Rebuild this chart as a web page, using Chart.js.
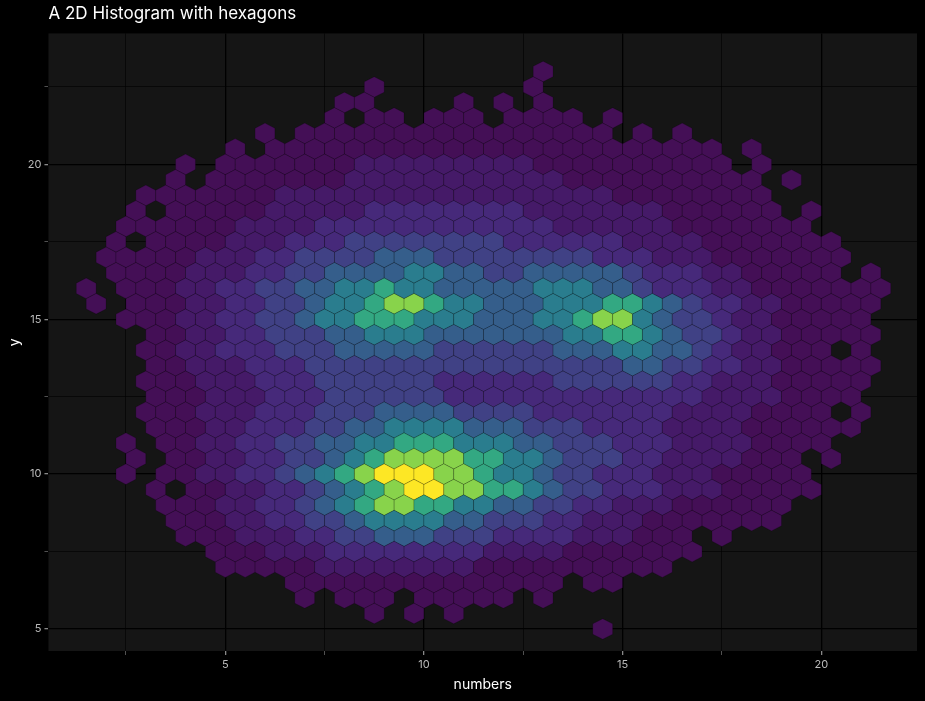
<!DOCTYPE html>
<html><head><meta charset="utf-8">
<script src="https://cdn.jsdelivr.net/npm/chart.js@4"></script>
<style>html,body{margin:0;background:#000;}#c{display:block}</style>
</head><body>
<canvas id="c" width="925" height="701"></canvas>
<script>
// Hexbin counts (levels 1-9), rows from y=23 down to y=5 in 0.5 steps; column i -> x = 1.5 + 0.5*i (odd rows shifted +0.25)
const rowYTop = 23, rowStep = 0.5, colX0 = 1.5, colStep = 0.5;
const hexRows = [
".......................1",
"..............1.......1",
".............11....1.1.1",
"............1.11.111.1111.1",
".........1.1111111111111111.1.1",
".......1.11111111111111111111111.1",
".....1.11111112222222221111111111.1",
"....1.1111111222222222221111111111.1",
"...11111112222222222222222211111111",
"..1.1111122222333333332222222111111.1",
"..11111122223333333333332222221111111",
".1.11112223334444444433333322221111111",
".11111222334444555444444443332221111111",
".1111222334455556655445555543332211111.1",
"1.111223344556676655555666554333221111111",
"1.11122334456678876655566677654332211111",
"..11122334456677766655566788654432211111",
"...1122334445566655555556677654432211111",
"...11223334445555544444455566554322111.1",
"...1122233344444444444444445544332211111",
"...1112223334444443333334444443322211111",
"...111222333444444333333333333322221111",
"...11122233344455554444333333322221111.1",
"...111223334455666655544433332222111111",
"..1.1122334455667776665544433322221111",
"..1.11223344567888877665444332222111.1",
"..1.112233456789998876654433322211111",
"...1.11223345678998877654433322211111",
"....11122334567887766554433222111111",
"....1112233445666655444332221111111",
".....11122233445554443333222111.1",
"......1112223333333322221111111",
".......11111222222221111111111",
"..........11111111111111.11",
"...........1.111.11111.1",
"..............1.1.1",
"..........................1"
];
const levelColors = ['#440f56','#451a68','#46297a','#404185','#355e8b','#2a7d8e','#33a882','#88d34b','#fde725'];
const xTicks = [5,10,15,20], yTicks = [5,10,15,20];
const titleText = 'A 2D Histogram with hexagons';

const pts = [];
hexRows.forEach((row, j) => {
  const y = rowYTop - j*rowStep;
  const off = (j % 2) ? colStep/2 : 0;
  for (let i = 0; i < row.length; i++) {
    const ch = row[i];
    if (ch >= '1' && ch <= '9') pts.push({x: colX0 + i*colStep + off, y: y, v: +ch});
  }
});

const font = "Inter, 'Open Sans', sans-serif";
const hexPlugin = {
  id: 'hex',
  beforeDraw(chart) {
    const {ctx, chartArea: a} = chart;
    ctx.save(); ctx.fillStyle = '#000'; ctx.fillRect(0,0,chart.width,chart.height);
    ctx.fillStyle = '#151515'; ctx.fillRect(a.left, a.top, a.right-a.left, a.bottom-a.top); ctx.restore();
  },
  beforeDatasetsDraw(chart) {
    const {ctx, chartArea: a, scales: {x, y}} = chart;
    ctx.save();
    ctx.beginPath(); ctx.rect(a.left, a.top, a.right-a.left, a.bottom-a.top); ctx.clip();
    const hw = Math.abs(x.getPixelForValue(colStep) - x.getPixelForValue(0)) / 2;
    const dy = Math.abs(y.getPixelForValue(rowStep) - y.getPixelForValue(0));
    chart.data.datasets[0].data.forEach(p => {
      const cx = x.getPixelForValue(p.x), cy = y.getPixelForValue(p.y);
      ctx.beginPath();
      ctx.moveTo(cx, cy - dy*2/3);
      ctx.lineTo(cx + hw, cy - dy/3);
      ctx.lineTo(cx + hw, cy + dy/3);
      ctx.lineTo(cx, cy + dy*2/3);
      ctx.lineTo(cx - hw, cy + dy/3);
      ctx.lineTo(cx - hw, cy - dy/3);
      ctx.closePath();
      ctx.fillStyle = levelColors[p.v-1]; ctx.fill();
      ctx.strokeStyle = 'rgba(0,0,0,0.3)'; ctx.lineWidth = 0.6; ctx.stroke();
    });
    ctx.restore();
  },
  afterDraw(chart) {
    const {ctx, chartArea: a} = chart;
    ctx.save(); ctx.fillStyle = '#fff'; ctx.font = '17px ' + font;
    ctx.textBaseline = 'middle'; ctx.fillText(titleText, a.left, 14); ctx.restore();
  }
};

new Chart(document.getElementById('c'), {
  type: 'scatter',
  data: {datasets: [{data: pts, pointRadius: 0, pointHoverRadius: 0}]},
  options: {
    responsive: false, animation: false,
    layout: {padding: {right: 8, bottom: 4, left: 2}},
    plugins: {
      legend: {display: false}, tooltip: {enabled: false},
      title: {display: true, text: titleText, align: 'start', color: 'rgba(0,0,0,0)',
        font: {family: font, size: 17, weight: 'normal'}, padding: {top: 5, bottom: 8}}
    },
    scales: {
      x: {type: 'linear', min: 0.55, max: 22.41,
        afterBuildTicks: s => { s.ticks = [2.5,5,7.5,10,12.5,15,17.5,20].map(v => ({value: v})); },
        ticks: {color: '#bbb', font: {family: font, size: 11}, callback: v => xTicks.includes(v) ? v : ''},
        grid: {color: '#000', lineWidth: c => c.tick && xTicks.includes(c.tick.value) ? 1.3 : 0.6, tickLength: 4, tickColor: '#888'},
        border: {display: false},
        title: {display: true, text: 'numbers', color: '#fff', font: {family: font, size: 14}, padding: {top: 2}}
      },
      y: {type: 'linear', min: 4.29, max: 24.23,
        afterBuildTicks: s => { s.ticks = [5,7.5,10,12.5,15,17.5,20,22.5].map(v => ({value: v})); },
        ticks: {color: '#bbb', font: {family: font, size: 11}, callback: v => yTicks.includes(v) ? v : ''},
        grid: {color: '#000', lineWidth: c => c.tick && yTicks.includes(c.tick.value) ? 1.3 : 0.6, tickLength: 4, tickColor: '#888'},
        border: {display: false},
        title: {display: true, text: 'y', color: '#fff', font: {family: font, size: 14}, padding: {bottom: 2}}
      }
    }
  },
  plugins: [hexPlugin]
});
</script>
</body></html>
